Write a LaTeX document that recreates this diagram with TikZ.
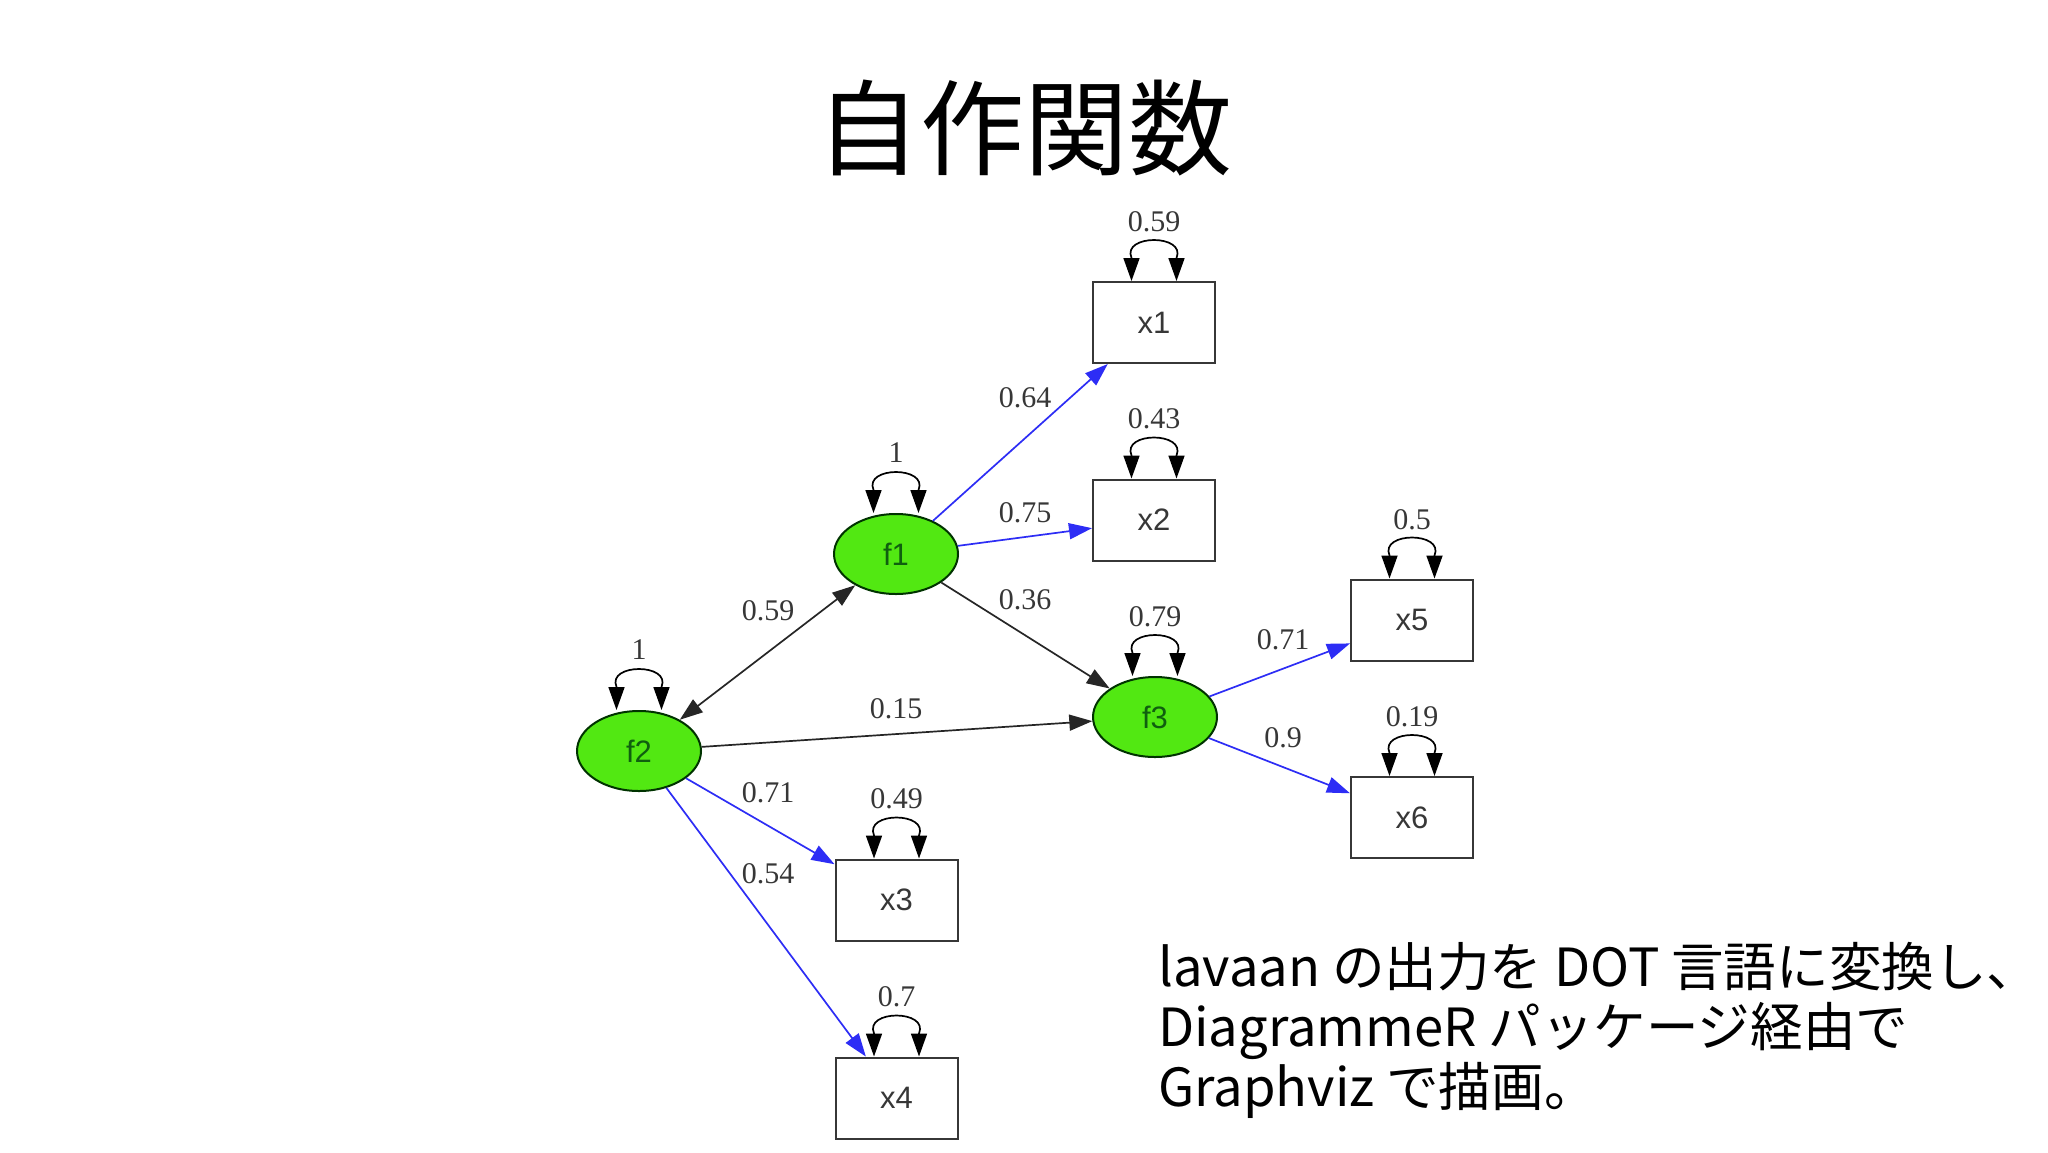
\documentclass[tikz,border=0pt]{standalone}
\usepackage{fontspec}
\setmainfont{Liberation Serif}
\newfontfamily\cjkfont{Noto Sans CJK JP}
\newfontfamily\arialfont{Liberation Sans}
\usetikzlibrary{arrows.meta,shapes.geometric}
\definecolor{nodegreen}{RGB}{82,232,18}
\definecolor{edgeblue}{RGB}{45,45,245}
\definecolor{textgreen}{RGB}{15,95,15}
\definecolor{graytext}{RGB}{55,55,55}
\begin{document}
\begin{tikzpicture}[x=1pt,y=-1pt,
  obs/.style={draw=graytext, line width=2pt, fill=white, minimum width=122pt, minimum height=81pt, inner sep=0pt, font=\arialfont\fontsize{31}{31}\selectfont, text=graytext},
  lat/.style={ellipse, draw=black!80!green, line width=2pt, fill=nodegreen, minimum width=124pt, minimum height=80pt, inner sep=0pt, font=\arialfont\fontsize{31}{31}\selectfont, text=textgreen},
  coef/.style={font=\fontsize{30}{30}\selectfont, text=graytext, inner sep=0pt},
  edgepath/.style={line width=1.7pt, -{Triangle[length=23pt,width=16pt]}},
  bluepath/.style={edgepath, draw=edgeblue},
  blackpath/.style={edgepath, draw=black!85},
  covpath/.style={line width=1.7pt, {Triangle[length=23pt,width=16pt]}-{Triangle[length=23pt,width=16pt]}, draw=black!85},
  looppath/.style={line width=1.7pt, {Triangle[length=23pt,width=16pt]}-{Triangle[length=23pt,width=16pt]}, draw=black},
  bigtext/.style={font=\cjkfont\fontsize{52.6}{60}\selectfont, inner sep=0pt, anchor=base west}
]
\fill[white] (0,0) rectangle (2048,1152);

% title
\node[font=\cjkfont\fontsize{104}{104}\selectfont, inner sep=0pt] (title) at (1024,128) {自作関数};

% nodes
\node[lat] (f1) at (896,554) {f1};
\node[lat] (f2) at (639,751) {f2};
\node[lat] (f3) at (1155,717) {f3};
\node[obs] (x1) at (1154,322.5) {x1};
\node[obs] (x2) at (1154,520) {x2};
\node[obs] (x3) at (896.5,900) {x3};
\node[obs] (x4) at (896.5,1098) {x4};
\node[obs] (x5) at (1412,620) {x5};
\node[obs] (x6) at (1412,817.5) {x6};

% edges
\draw[bluepath] (f1) -- (x1);
\draw[bluepath] (f1) -- (x2);
\draw[blackpath] (f1) -- (f3);
\draw[covpath] (f2) -- (f1);
\draw[blackpath] (f2) -- (f3);
\draw[bluepath] (f2) -- (x3);
\draw[bluepath] (f2) -- (x4);
\draw[bluepath] (f3) -- (x5);
\draw[bluepath] (f3) -- (x6);

% self loops
\foreach \n in {f1,f2,f3,x1,x2,x3,x4,x5,x6}{
  \draw[looppath] ([xshift=-22.5pt]\n.north) -- ([xshift=-22.5pt,yshift=23pt]\n.north)
    .. controls ([xshift=-32.5pt,yshift=47pt]\n.north) and ([xshift=32.5pt,yshift=47pt]\n.north)
    .. ([xshift=22.5pt,yshift=23pt]\n.north) -- ([xshift=22.5pt]\n.north);
}

% edge labels
\node[coef] (l1) at (1025,398) {0.64};
\node[coef] (l2) at (1025,513) {0.75};
\node[coef] (l3) at (1025,600) {0.36};
\node[coef] (l4) at (768,611) {0.59};
\node[coef] (l5) at (896,709) {0.15};
\node[coef] (l6) at (768,793) {0.71};
\node[coef] (l7) at (768,874) {0.54};
\node[coef] (l8) at (1283,640) {0.71};
\node[coef] (l9) at (1283,738) {0.9};

% loop labels
\node[coef] (v1) at (1154,222) {0.59};
\node[coef] (v2) at (1154,419) {0.43};
\node[coef] (vf1) at (896,453) {1};
\node[coef] (vf2) at (639,650) {1};
\node[coef] (vf3) at (1155,617) {0.79};
\node[coef] (v5) at (1412,520) {0.5};
\node[coef] (v6) at (1412,717) {0.19};
\node[coef] (v3) at (896.5,799) {0.49};
\node[coef] (v4) at (896.5,997) {0.7};

% note
\node[bigtext] (t1) at (1158,986) {lavaan の出力を DOT 言語に変換し、};
\node[bigtext] (t2) at (1158,1046) {DiagrammeR パッケージ経由で};
\node[bigtext] (t3) at (1158,1106) {Graphviz で描画。};
\end{tikzpicture}
\end{document}
